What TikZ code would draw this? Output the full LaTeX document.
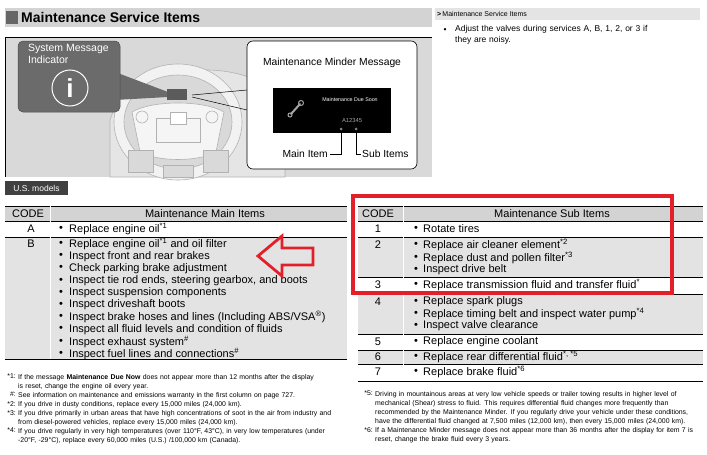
\documentclass[tikz,border=0pt]{standalone}
\usepackage{fontspec}
\setmainfont{Liberation Sans}
\definecolor{hdr}{HTML}{D3D3D3}
\definecolor{rowg}{HTML}{E3E3E3}
\definecolor{ill}{HTML}{D9D9D9}
\definecolor{callg}{HTML}{6B6B6B}
\definecolor{redc}{HTML}{E3202A}
\tikzset{
 tx/.style={anchor=west,inner sep=0pt,font=\fontsize{11}{12}\selectfont},
 bul/.style={anchor=center,inner sep=0pt,font=\fontsize{11}{12}\selectfont},
 fn/.style={anchor=north west,inner sep=0pt,align=left,font=\fontsize{6.9}{9}\selectfont},
 fm/.style={anchor=north east,inner sep=0pt,font=\fontsize{6.9}{9}\selectfont},
 tline/.style={draw=black,line width=0.5pt}
}
\begin{document}
\begin{tikzpicture}[x=1pt,y=-1pt]
\useasboundingbox[fill=white] (0,0) rectangle (707,455);
% header
\fill[hdr] (5,8) rectangle (432,27);
\fill[gray!80!black] (6,11) rectangle (18,24);
\node[anchor=west,inner sep=0pt,font=\bfseries\fontsize{14}{15}\selectfont] (title) at (21,17.5) {Maintenance Service Items};
% side note
\fill[hdr!60] (435,8) rectangle (700,20);
\node[anchor=west,inner sep=0pt,font=\fontsize{7}{8}\selectfont] (side) at (437,14) {\textbf{>}\,Maintenance Service Items};
\node[anchor=north west,inner sep=0pt,align=left,text width=240pt,font=\fontsize{8.5}{11}\selectfont] (sidetxt) at (455,25) {Adjust the valves during services A, B, 1, 2, or 3 if\\they are noisy.};
\node[inner sep=0pt,font=\fontsize{8.5}{11}\selectfont] (sb) at (445,31) {•};
% illustration
\fill[ill] (5,37) rectangle (432,177);
\draw[line width=0.6pt] (5,37) -- (432,37);
\draw[line width=0.6pt] (5,37) -- (5,177);
% steering wheel
\begin{scope}[draw=gray!60,line width=0.6pt]
\draw[fill=gray!20] (110,120) .. controls (130,55) and (270,55) .. (285,110) -- (285,177) -- (110,177) -- cycle;
\draw[fill=white!90!gray] (178,122) ellipse (64 and 58);
\draw[fill=ill] (178,122) ellipse (54 and 47);
\draw[fill=white!92!gray] (132,112) .. controls (152,100) and (204,100) .. (224,112) -- (216,152) .. controls (198,162) and (158,162) .. (140,152) -- cycle;
\draw[fill=gray!30] (163,165) rectangle (193,177);
\draw (156,118) rectangle (200,142);
\draw[fill=white] (170,112) rectangle (186,124);
\draw (142,117) circle (6); \draw (212,117) circle (6);
\draw[fill=gray!30] (128,150) rectangle (153,172);
\draw[fill=gray!30] (203,150) rectangle (228,172);
\end{scope}
% callout
\fill[callg] (115,72) -- (168,92) -- (168,97) -- (115,100) -- cycle;
\fill[callg!85!black] (167,89) rectangle (187,100);
\draw[line width=0.5pt] (192,95) -- (247,90);
\draw[line width=0.5pt] (192,97) -- (247,110);
\draw[fill=callg,draw=black!70,rounded corners=5pt,line width=0.5pt] (18,41) rectangle (120,112);
\node[anchor=north west,inner sep=0pt,align=left,text=white,font=\fontsize{10.5}{11.5}\selectfont] (smi) at (28,44) {System Message\\Indicator};
\node[circle,draw=white,line width=1pt,minimum size=36pt,inner sep=0pt,text=white,font=\bfseries\fontsize{26}{26}\selectfont] (info) at (70,88) {i};
% minder box
\draw[fill=white,rounded corners=6pt,line width=0.6pt] (247,41) rectangle (417,169);
\node[inner sep=0pt,font=\fontsize{10.3}{11}\selectfont] (mmm) at (332,63) {Maintenance Minder Message};
\fill[black] (273,88) rectangle (391,133);
\node[inner sep=0pt,text=white,font=\fontsize{5.3}{6}\selectfont] (mds) at (350,100) {Maintenance Due Soon};
\node[inner sep=0pt,text=gray!70,font=\fontsize{5.8}{6}\selectfont] (code) at (352,121) {A12345};
\draw[gray!70,line width=2pt,line cap=round] (291,114) -- (300,104);
\draw[gray!70,line width=1pt] (290,115) circle (2); \draw[gray!70,line width=1pt] (301,103) circle (2.5);
\coordinate (pa) at (341,129);
\coordinate (pb) at (356,129);
\node[anchor=east,inner sep=0pt,font=\fontsize{10.3}{11}\selectfont] (main) at (328,154) {Main Item};
\node[anchor=west,inner sep=0pt,font=\fontsize{10.3}{11}\selectfont] (sub) at (362,154) {Sub Items};
\draw[line width=0.6pt] (main.east)++(2,0) -- (341,154) -- (pa);
\draw[line width=0.6pt] (sub.west)++(-1,0) -- (356,154) -- (pb);
\draw[line width=0.5pt,fill=white] (pa) circle (1.5); \draw[line width=0.5pt,fill=white] (pb) circle (1.5);
% US models
\fill[black!75] (5,181) rectangle (68,195);
\node[inner sep=0pt,text=white,font=\fontsize{8.5}{9}\selectfont] (us) at (36.5,188) {U.S. models};
% left table
\fill[hdr] (5,206) rectangle (347,221);
\fill[rowg] (5,237) rectangle (347,359);
\draw[tline] (5,206) -- (347,206); \draw[tline] (5,221) -- (347,221);
\draw[tline] (5,237) -- (347,237); \draw[tline] (5,359) -- (347,359);
\draw[white,line width=1pt] (50,206) -- (50,359);
\node[bul] (lc) at (28,213.5) {CODE};
\node[bul] (lh) at (205,213.5) {Maintenance Main Items};
\node[bul] (la) at (31,229) {A};
\node[bul] at (61,229) {•};
\node[tx] (la1) at (69,229) {Replace engine oil\textsuperscript{*1}};
\node[bul] (lb) at (31,244) {B};
\foreach \i/\t in {0/{Replace engine oil\textsuperscript{*1} and oil filter},1/{Inspect front and rear brakes},2/{Check parking brake adjustment},3/{Inspect tie rod ends, steering gearbox, and boots},4/{Inspect suspension components},5/{Inspect driveshaft boots},6/{Inspect brake hoses and lines (Including ABS/VSA\textsuperscript{®})},7/{Inspect all fluid levels and condition of fluids},8/{Inspect exhaust system\textsuperscript{\#}},9/{Inspect fuel lines and connections\textsuperscript{\#}}}{
 \node[bul] at (61,244+12.2*\i) {•};
 \node[tx] at (69,244+12.2*\i) {\t};
}
% red arrow
\draw[redc,line width=2.8pt,line join=miter] (258,256) -- (282,236) -- (282,248) -- (313,248) -- (313,265) -- (282,265) -- (282,276) -- cycle;
% right table
\fill[hdr] (358,206) rectangle (703,221);
\fill[rowg] (358,237) rectangle (703,277);
\fill[rowg] (358,294) rectangle (703,334);
\fill[rowg] (358,350) rectangle (703,364);
\foreach \y in {206,221,237,277,294,334,350,364,381} \draw[tline] (358,\y) -- (703,\y);
\draw[white,line width=1pt] (403,206) -- (403,381);
\node[bul] (rc) at (378,213.5) {CODE};
\node[bul] (rh) at (552,213.5) {Maintenance Sub Items};
\foreach \c/\y in {1/229,2/245,3/285,4/302,5/342,6/357,7/372} \node[bul] at (378,\y) {\c};
\foreach \y/\t in {229/{Rotate tires},245/{Replace air cleaner element\textsuperscript{*2}},257.5/{Replace dust and pollen filter\textsuperscript{*3}},270/{Inspect drive belt},285/{Replace transmission fluid and transfer fluid\textsuperscript{*}},302/{Replace spark plugs},314/{Replace timing belt and inspect water pump\textsuperscript{*4}},326/{Inspect valve clearance},342/{Replace engine coolant},357/{Replace rear differential fluid\textsuperscript{*, *5}},372/{Replace brake fluid\textsuperscript{*6}}}{
 \node[bul] at (416,\y) {•};
 \node[tx] at (423,\y) {\t};
}
\draw[redc,line width=3.5pt] (353,196) rectangle (672,293);
% footnotes left
\node[fm] at (16,374) {*1:};
\node[fn,text width=345pt] (f1) at (18,374) {If the message \textbf{Maintenance Due Now} does not appear more than 12 months after the display\\is reset, change the engine oil every year.};
\node[fm] at (16,392) {\#:};
\node[fn,text width=345pt] (f2) at (18,392) {See information on maintenance and emissions warranty in the first column on page 727.};
\node[fm] at (16,401) {*2:};
\node[fn,text width=345pt] (f3) at (18,401) {If you drive in dusty conditions, replace every 15,000 miles (24,000 km).};
\node[fm] at (16,410) {*3:};
\node[fn,text width=345pt] (f4) at (18,410) {If you drive primarily in urban areas that have high concentrations of soot in the air from industry and\\from diesel-powered vehicles, replace every 15,000 miles (24,000 km).};
\node[fm] at (16,428) {*4:};
\node[fn,text width=345pt] (f5) at (18,428) {If you drive regularly in very high temperatures (over 110°F, 43°C), in very low temperatures (under\\-20°F, -29°C), replace every 60,000 miles (U.S.) /100,000 km (Canada).};
% footnotes right
\node[fm] at (373,391) {*5:};
\node[fn,text width=335pt] (f6) at (375,391) {Driving in mountainous areas at very low vehicle speeds or trailer towing results in higher level of\\mechanical (Shear) stress to fluid. This requires differential fluid changes more frequently than\\recommended by the Maintenance Minder. If you regularly drive your vehicle under these conditions,\\have the differential fluid changed at 7,500 miles (12,000 km), then every 15,000 miles (24,000 km).};
\node[fm] at (373,427) {*6:};
\node[fn,text width=335pt] (f7) at (375,427) {If a Maintenance Minder message does not appear more than 36 months after the display for item 7 is\\reset, change the brake fluid every 3 years.};
\end{tikzpicture}
\end{document}
